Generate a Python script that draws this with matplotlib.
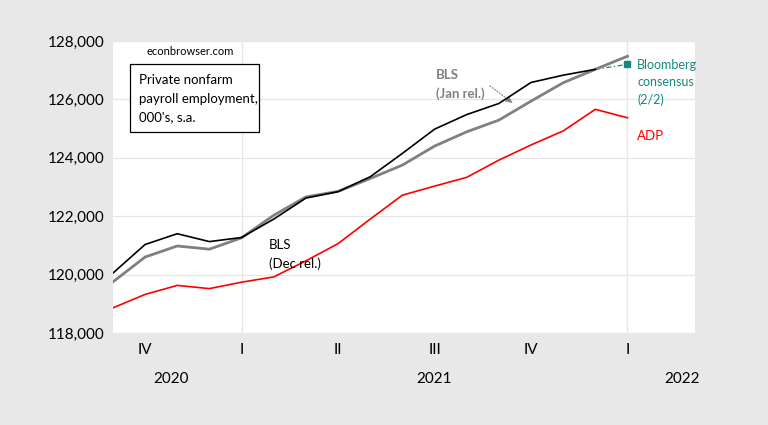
import matplotlib
matplotlib.use("Agg")
import matplotlib.pyplot as plt
from matplotlib.patches import Rectangle
from matplotlib.transforms import blended_transform_factory

plt.rcParams['font.family'] = ['Lato', 'DejaVu Sans']

# months Sep 2020 .. Jan 2022
months = ["2020-09", "2020-10", "2020-11", "2020-12",
          "2021-01", "2021-02", "2021-03", "2021-04", "2021-05", "2021-06",
          "2021-07", "2021-08", "2021-09", "2021-10", "2021-11", "2021-12",
          "2022-01"]

# BLS, December release (ends Dec 2021)
bls_dec = [120050, 121030, 121400, 121130, 121270, 121900, 122620, 122840,
           123350, 124150, 124980, 125480, 125860, 126580, 126830, 127030]
# BLS, January release
bls_jan = [119750, 120600, 120980, 120870, 121260, 122030, 122660, 122850,
           123290, 123750, 124400, 124890, 125290, 125940, 126570, 127030,
           127480]
# ADP
adp = [118860, 119320, 119630, 119520, 119740, 119920, 120470, 121060,
       121900, 122720, 123030, 123330, 123920, 124440, 124920, 125660, 125370]
# Bloomberg consensus for Jan 2022 (2/2)
consensus = 127200

quarter_pos = [1, 4, 7, 10, 13, 16]
quarter_labels = ["IV", "I", "II", "III", "IV", "I"]
year_pos = [1.8, 10, 17.7]
year_labels = ["2020", "2021", "2022"]
yticks = [118000, 120000, 122000, 124000, 126000, 128000]

x = list(range(len(months)))

fig = plt.figure(figsize=(7.68, 4.25), dpi=100, facecolor="#e8e8e8")
ax = fig.add_axes([0.147, 0.2165, 0.758, 0.687])
ax.set_facecolor("white")

ax.plot(x[:len(bls_dec)], bls_dec, color="black", lw=1.2, zorder=4)
ax.plot(x, bls_jan, color="#808080", lw=2.0, zorder=3)
ax.plot(x, adp, color="#ff0000", lw=1.2, zorder=3)

teal = "#17877f"
ax.plot([x[-2], x[-1]], [bls_jan[-2], consensus], color=teal, lw=0.9,
        ls=(0, (4, 2, 1, 2)), zorder=2)
ax.plot([x[-1]], [consensus], marker="s", ms=4.5, color=teal, zorder=5)

ax.set_xlim(0, 18.1)
ax.set_ylim(118000, 128000)
ax.set_yticks(yticks)
ax.set_yticklabels([f"{v:,}" for v in yticks], fontsize=11)
ax.set_xticks(quarter_pos)
ax.set_xticklabels(quarter_labels, fontsize=11)
ax.tick_params(length=0, pad=6)
ax.tick_params(axis="x", pad=7)

ax.grid(True, color="#e6e6e6", lw=0.9)
ax.xaxis.grid(False)
for xv in [4, 16]:
    ax.axvline(xv, color="#e6e6e6", lw=0.9, zorder=0)
ax.set_axisbelow(True)
for s in ax.spines.values():
    s.set_visible(False)

trans = blended_transform_factory(ax.transData, fig.transFigure)
for p, lab in zip(year_pos, year_labels):
    ax.text(p, 1 - 379 / 425, lab, transform=trans, fontsize=11,
            ha="center", va="center")

ax.text(2.4, 127650, "econbrowser.com", fontsize=8, ha="center", va="center")
ax.add_patch(Rectangle((0.53, 124880), 4.01, 2330, fc="white", ec="black",
                       lw=0.9, zorder=5))
ax.text(0.8, 126030, "Private nonfarm\npayroll employment,\n000's, s.a.",
        fontsize=9.5, ha="left", va="center", linespacing=1.7, zorder=6)

ax.text(4.85, 120700, "BLS\n(Dec rel.)", fontsize=9.5, ha="left",
        va="center", linespacing=1.6)
ax.text(10.05, 126500, "BLS\n(Jan rel.)", fontsize=9.5, ha="left",
        va="center", linespacing=1.6, color="#808080", fontweight="bold")
ax.annotate("", xy=(12.5, 125820), xytext=(11.65, 126520),
            arrowprops=dict(arrowstyle="-|>", color="#808080", lw=0.8,
                            ls=":", mutation_scale=10))
ax.text(16.3, 126580, "Bloomberg\nconsensus\n(2/2)", fontsize=9, ha="left",
        va="center", linespacing=1.55, color=teal)
ax.text(16.3, 124740, "ADP", fontsize=9.5, ha="left", va="center",
        color="#ff0000")

fig.savefig("out.png", dpi=100, facecolor=fig.get_facecolor())
